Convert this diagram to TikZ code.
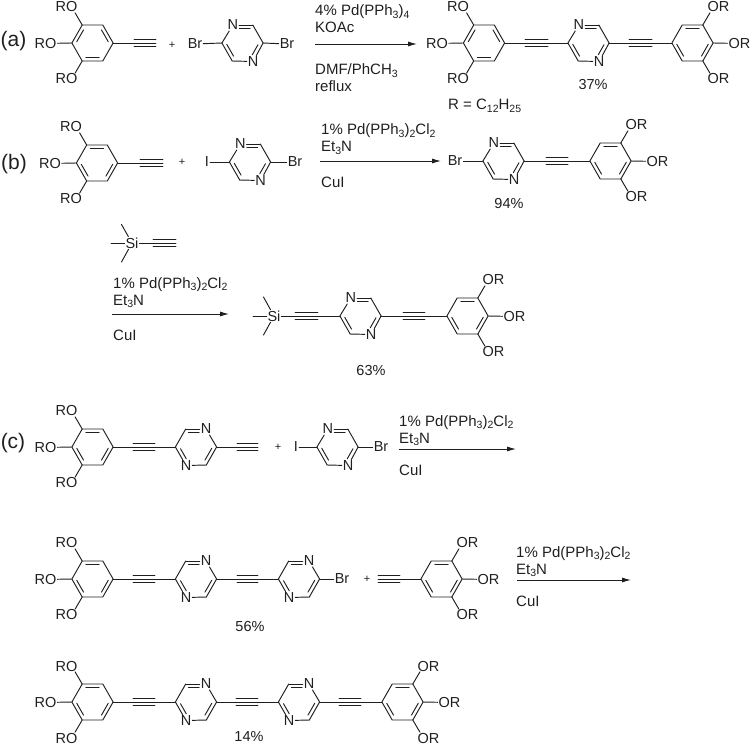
\documentclass[tikz,border=0pt]{standalone}
\usepackage{fontspec}
\setmainfont{Liberation Sans}
\usetikzlibrary{calc,arrows.meta}
\definecolor{ink}{gray}{0.12}
\tikzset{
  bond/.style={line width=0.95pt,draw=ink,line cap=round,line join=round},
  innerb/.style={bond,shorten <=#1,shorten >=#1},
  innerb/.default=1.5pt,
  atom/.style={inner sep=0.8pt,text=ink,font=\fontsize{14.5}{14.5}\selectfont},
  sub0/.style={inner sep=0pt,text=ink,font=\fontsize{14.5}{14.5}\selectfont},
  reagent/.style={inner sep=0pt,anchor=base west,text=ink,font=\fontsize{15}{15}\selectfont},
  tag/.style={inner sep=0pt,text=ink,font=\fontsize{21}{21}\selectfont},
  plus/.style={inner sep=0pt,text=ink,font=\fontsize{11}{11}\selectfont},
  yield/.style={inner sep=0pt,text=ink,font=\fontsize{14.5}{14.5}\selectfont},
  rxn/.style={line width=0.95pt,draw=ink,-{Latex[length=9pt,width=5pt]}},
}
\newcommand\sbs[1]{\raisebox{-2.6pt}{\fontsize{10.5}{10.5}\selectfont #1}}
% hexagon vertices
\newcommand\hexpts[3]{%
  \coordinate (#1C) at (#2,#3);
  \coordinate (#1L) at (#2-20.6,#3);
  \coordinate (#1R) at (#2+20.6,#3);
  \coordinate (#1TLp) at (#2-10.3,#3-18);
  \coordinate (#1TRp) at (#2+10.3,#3-18);
  \coordinate (#1BLp) at (#2-10.3,#3+18);
  \coordinate (#1BRp) at (#2+10.3,#3+18);
}
\newcommand\inner[3]{\draw[innerb] ($(#1C)!.8!(#1#2)$) -- ($(#1C)!.8!(#1#3)$);}
\newcommand\ringbase[3]{%
  \hexpts{#1}{#2}{#3}
  \draw[bond] (#1L)--(#1TLp)--(#1TRp)--(#1R)--(#1BRp)--(#1BLp)--cycle;
}
% double-bond patterns of the benzene ring
\newcommand\kekA[1]{\inner{#1}{TLp}{TRp}\inner{#1}{Rp}{BRp}\inner{#1}{Lp}{BLp}}
\newcommand\kekB[1]{\inner{#1}{Lp}{TLp}\inner{#1}{TRp}{Rp}\inner{#1}{BLp}{BRp}}
\newcommand\setLR[1]{\coordinate (#1Lp) at (#1L);\coordinate (#1Rp) at (#1R);}
% aryl with RO groups on the left
\newcommand\arylL[4]{%
  \ringbase{#1}{#2}{#3}\setLR{#1}\csname kek#4\endcsname{#1}
  \node[sub0] (#1ot) at (#2-26,#3-36) {RO};
  \node[atom] (#1ol) at (#2-47,#3+0.5) {RO};
  \node[sub0] (#1ob) at (#2-26,#3+36) {RO};
  \draw[bond] (#1TLp) -- ([xshift=-2.5pt,yshift=-0.5pt]#1ot.south east);
  \draw[bond] (#1L) -- (#1ol);
  \draw[bond] (#1BLp) -- ([xshift=-2.5pt,yshift=0.5pt]#1ob.north east);
}
% aryl with OR groups on the right
\newcommand\arylR[3]{%
  \ringbase{#1}{#2}{#3}\setLR{#1}\kekA{#1}
  \node[sub0] (#1ot) at (#2+26,#3-36) {OR};
  \node[atom] (#1ol) at (#2+47,#3+0.5) {OR};
  \node[sub0] (#1ob) at (#2+26,#3+36) {OR};
  \draw[bond] (#1TRp) -- ([xshift=2.5pt,yshift=-0.5pt]#1ot.south west);
  \draw[bond] (#1R) -- (#1ol);
  \draw[bond] (#1BRp) -- ([xshift=2.5pt,yshift=0.5pt]#1ob.north west);
}
% pyrazine, N at top-left and bottom-right
\newcommand\pyrA[3]{%
  \hexpts{#1}{#2}{#3}\setLR{#1}
  \node[atom] (#1N) at (#2-9.6,#3-18) {N};
  \node[atom] (#1M) at (#2+10.6,#3+18.5) {N};
  \draw[bond] (#1L)--(#1N);
  \draw[bond] (#1N)--(#1TRp);
  \draw[bond] (#1TRp)--(#1R);
  \draw[bond] (#1R)--(#1M);
  \draw[bond] (#1M)--(#1BLp);
  \draw[bond] (#1BLp)--(#1L);
  \draw[bond,shorten <=5pt,shorten >=0.5pt] ($(#1C)!.8!(#1TLp)$) -- ($(#1C)!.8!(#1TRp)$);
  \draw[bond,shorten <=2pt,shorten >=3pt] ($(#1C)!.8!(#1R)$) -- ($(#1C)!.8!(#1BRp)$);
  \draw[innerb] ($(#1C)!.8!(#1L)$) -- ($(#1C)!.8!(#1BLp)$);
}
% pyrazine, N at top-right and bottom-left
\newcommand\pyrB[3]{%
  \hexpts{#1}{#2}{#3}\setLR{#1}
  \node[atom] (#1N) at (#2+10,#3-18) {N};
  \node[atom] (#1M) at (#2-10,#3+18.5) {N};
  \draw[bond] (#1L)--(#1TLp);
  \draw[bond] (#1TLp)--(#1N);
  \draw[bond] (#1N)--(#1R);
  \draw[bond] (#1R)--(#1BRp);
  \draw[bond] (#1BRp)--(#1M);
  \draw[bond] (#1M)--(#1L);
  \draw[bond,shorten <=0.5pt,shorten >=5pt] ($(#1C)!.8!(#1TLp)$) -- ($(#1C)!.8!(#1TRp)$);
  \draw[innerb] ($(#1C)!.8!(#1R)$) -- ($(#1C)!.8!(#1BRp)$);
  \draw[bond,shorten <=2pt,shorten >=3pt] ($(#1C)!.8!(#1L)$) -- ($(#1C)!.8!(#1BLp)$);
}
% two outer bars of a triple bond
\newcommand\tbar[3]{%
  \draw[bond] (#1,#3-3.8) -- (#2,#3-3.8);
  \draw[bond] (#1,#3+3.8) -- (#2,#3+3.8);
}
\newcommand\pdcond[3]{% name, x, y of top line; second line follows
  \node[reagent] (#1a) at (#2,#3+5) {1\% Pd(PPh\sbs{3})\sbs{2}Cl\sbs{2}};
  \node[reagent] (#1b) at (#2,#3+22) {Et\sbs{3}N};
}
\begin{document}
\begin{tikzpicture}[x=1pt,y=-1pt]
\useasboundingbox (0,0) rectangle (751,746);
% ---------- (a)
\node[tag] (taga) at (13.5,41) {(a)};
\arylL{aa}{92.5}{43}{B}
\coordinate (aae) at (156,43);
\draw[bond] (aaR) -- (aae);
\tbar{134}{156}{43}
\node[plus] (pa) at (172,45) {+};
\pyrA{ab}{242.5}{43}
\node[atom] (ab1) at (195,44) {Br};
\node[atom] (ab2) at (287,44) {Br};
\draw[bond] (abL) -- (ab1);
\draw[bond] (abR) -- (ab2);
\node[reagent] (ar1) at (315,15.5) {4\% Pd(PPh\sbs{3})\sbs{4}};
\node[reagent] (ar2) at (315,32.5) {KOAc};
\node[reagent] (ar3) at (315,75) {DMF/PhCH\sbs{3}};
\node[reagent] (ar4) at (315,92) {reflux};
\coordinate (aas) at (315,44);
\coordinate (aat) at (417,44);
\draw[rxn] (aas) -- (aat);
\arylL{pa1}{484}{43}{B}
\pyrA{pa2}{588.5}{43}
\arylR{pa3}{692.5}{43}
\draw[bond] (pa1R) -- (pa2L);
\draw[bond] (pa2R) -- (pa3L);
\tbar{525}{548}{43}
\tbar{629}{652}{43}
\node[yield] (ya) at (593,85) {37\%};
\node[reagent] (rdef) at (448,110) {R = C\sbs{12}H\sbs{25}};
% ---------- (b)
\node[tag] (tagb) at (14,164) {(b)};
\arylL{ba}{97}{163}{A}
\coordinate (bae) at (163,163);
\draw[bond] (baR) -- (bae);
\tbar{140}{163}{163}
\node[plus] (pb) at (182,162) {+};
\pyrA{bb}{250}{162}
\node[atom] (bb1) at (207,162) {I};
\node[atom] (bb2) at (295,162) {Br};
\draw[bond] (bbL) -- (bb1);
\draw[bond] (bbR) -- (bb2);
\pdcond{br}{321}{130}
\node[reagent] (br3) at (321,187) {CuI};
\coordinate (brs) at (320,161);
\coordinate (brt) at (441,161);
\draw[rxn] (brs) -- (brt);
\node[atom] (pb1) at (455,161) {Br};
\pyrA{pb2}{503.5}{161}
\arylR{pb3}{610.5}{161}
\draw[bond] (pb2L) -- (pb1);
\draw[bond] (pb2R) -- (pb3L);
\tbar{546}{568}{161}
\node[yield] (yb) at (509,204) {94\%};
% TMS-acetylene reagent
\node[atom] (si1) at (132,243) {Si};
\coordinate (si1a) at (111,243);
\coordinate (si1b) at (121.5,224.5);
\coordinate (si1c) at (121.5,262);
\coordinate (si1e) at (176,243);
\draw[bond] (si1a) -- (si1);
\draw[bond] (si1b) -- (si1);
\draw[bond] (si1c) -- (si1);
\draw[bond] (si1) -- (si1e);
\tbar{153}{176}{243}
\pdcond{cr}{113}{283}
\node[reagent] (cr3) at (113,340) {CuI};
\coordinate (crs) at (112,314);
\coordinate (crt) at (229,314);
\draw[rxn] (crs) -- (crt);
% second product of (b)
\node[atom] (si2) at (274,316) {Si};
\coordinate (si2a) at (253,316);
\coordinate (si2b) at (263.5,297);
\coordinate (si2c) at (263.5,335);
\draw[bond] (si2a) -- (si2);
\draw[bond] (si2b) -- (si2);
\draw[bond] (si2c) -- (si2);
\pyrA{pc2}{360.5}{316}
\arylR{pc3}{467.5}{316}
\draw[bond] (si2) -- (pc2L);
\draw[bond] (pc2R) -- (pc3L);
\tbar{295}{318}{316}
\tbar{403}{425}{316}
\node[yield] (yc) at (371,371) {63\%};
% ---------- (c)
\node[tag] (tagc) at (13,443) {(c)};
\arylL{da}{92.5}{447}{A}
\pyrB{db}{196}{447}
\coordinate (dbe) at (258,447);
\draw[bond] (daR) -- (dbL);
\draw[bond] (dbR) -- (dbe);
\tbar{133}{155}{447}
\tbar{237}{258}{447}
\node[plus] (pd) at (278,447) {+};
\pyrA{dc}{337.5}{447}
\node[atom] (dc1) at (296,447) {I};
\node[atom] (dc2) at (381,447) {Br};
\draw[bond] (dcL) -- (dc1);
\draw[bond] (dcR) -- (dc2);
\pdcond{dr}{399}{421}
\node[reagent] (dr3) at (399,475) {CuI};
\coordinate (drs) at (399,449);
\coordinate (drt) at (516,449);
\draw[rxn] (drs) -- (drt);
% second row of (c)
\arylL{ea}{92.5}{579}{A}
\pyrB{eb}{196}{579}
\pyrB{ec}{299}{579}
\node[atom] (ebr) at (342,579) {Br};
\draw[bond] (eaR) -- (ebL);
\draw[bond] (ebR) -- (ecL);
\draw[bond] (ecR) -- (ebr);
\tbar{133}{155}{579}
\tbar{237}{258}{579}
\node[plus] (pe) at (367,579) {+};
\arylR{ed}{441.5}{579}
\coordinate (ede) at (378,579);
\draw[bond] (ede) -- (edL);
\tbar{378}{400}{579}
\node[yield] (ye) at (250,627) {56\%};
\pdcond{er}{516}{552}
\node[reagent] (er3) at (516,606) {CuI};
\coordinate (ers) at (517,580);
\coordinate (ert) at (631,580);
\draw[rxn] (ers) -- (ert);
% last product
\arylL{fa}{92.5}{702}{A}
\pyrB{fb}{196}{702}
\pyrB{fc}{299}{702}
\arylR{fd}{402.5}{702}
\draw[bond] (faR) -- (fbL);
\draw[bond] (fbR) -- (fcL);
\draw[bond] (fcR) -- (fdL);
\tbar{133}{155}{702}
\tbar{236}{258}{702}
\tbar{339}{361}{702}
\node[yield] (yf) at (249,737) {14\%};
\end{tikzpicture}
\end{document}
